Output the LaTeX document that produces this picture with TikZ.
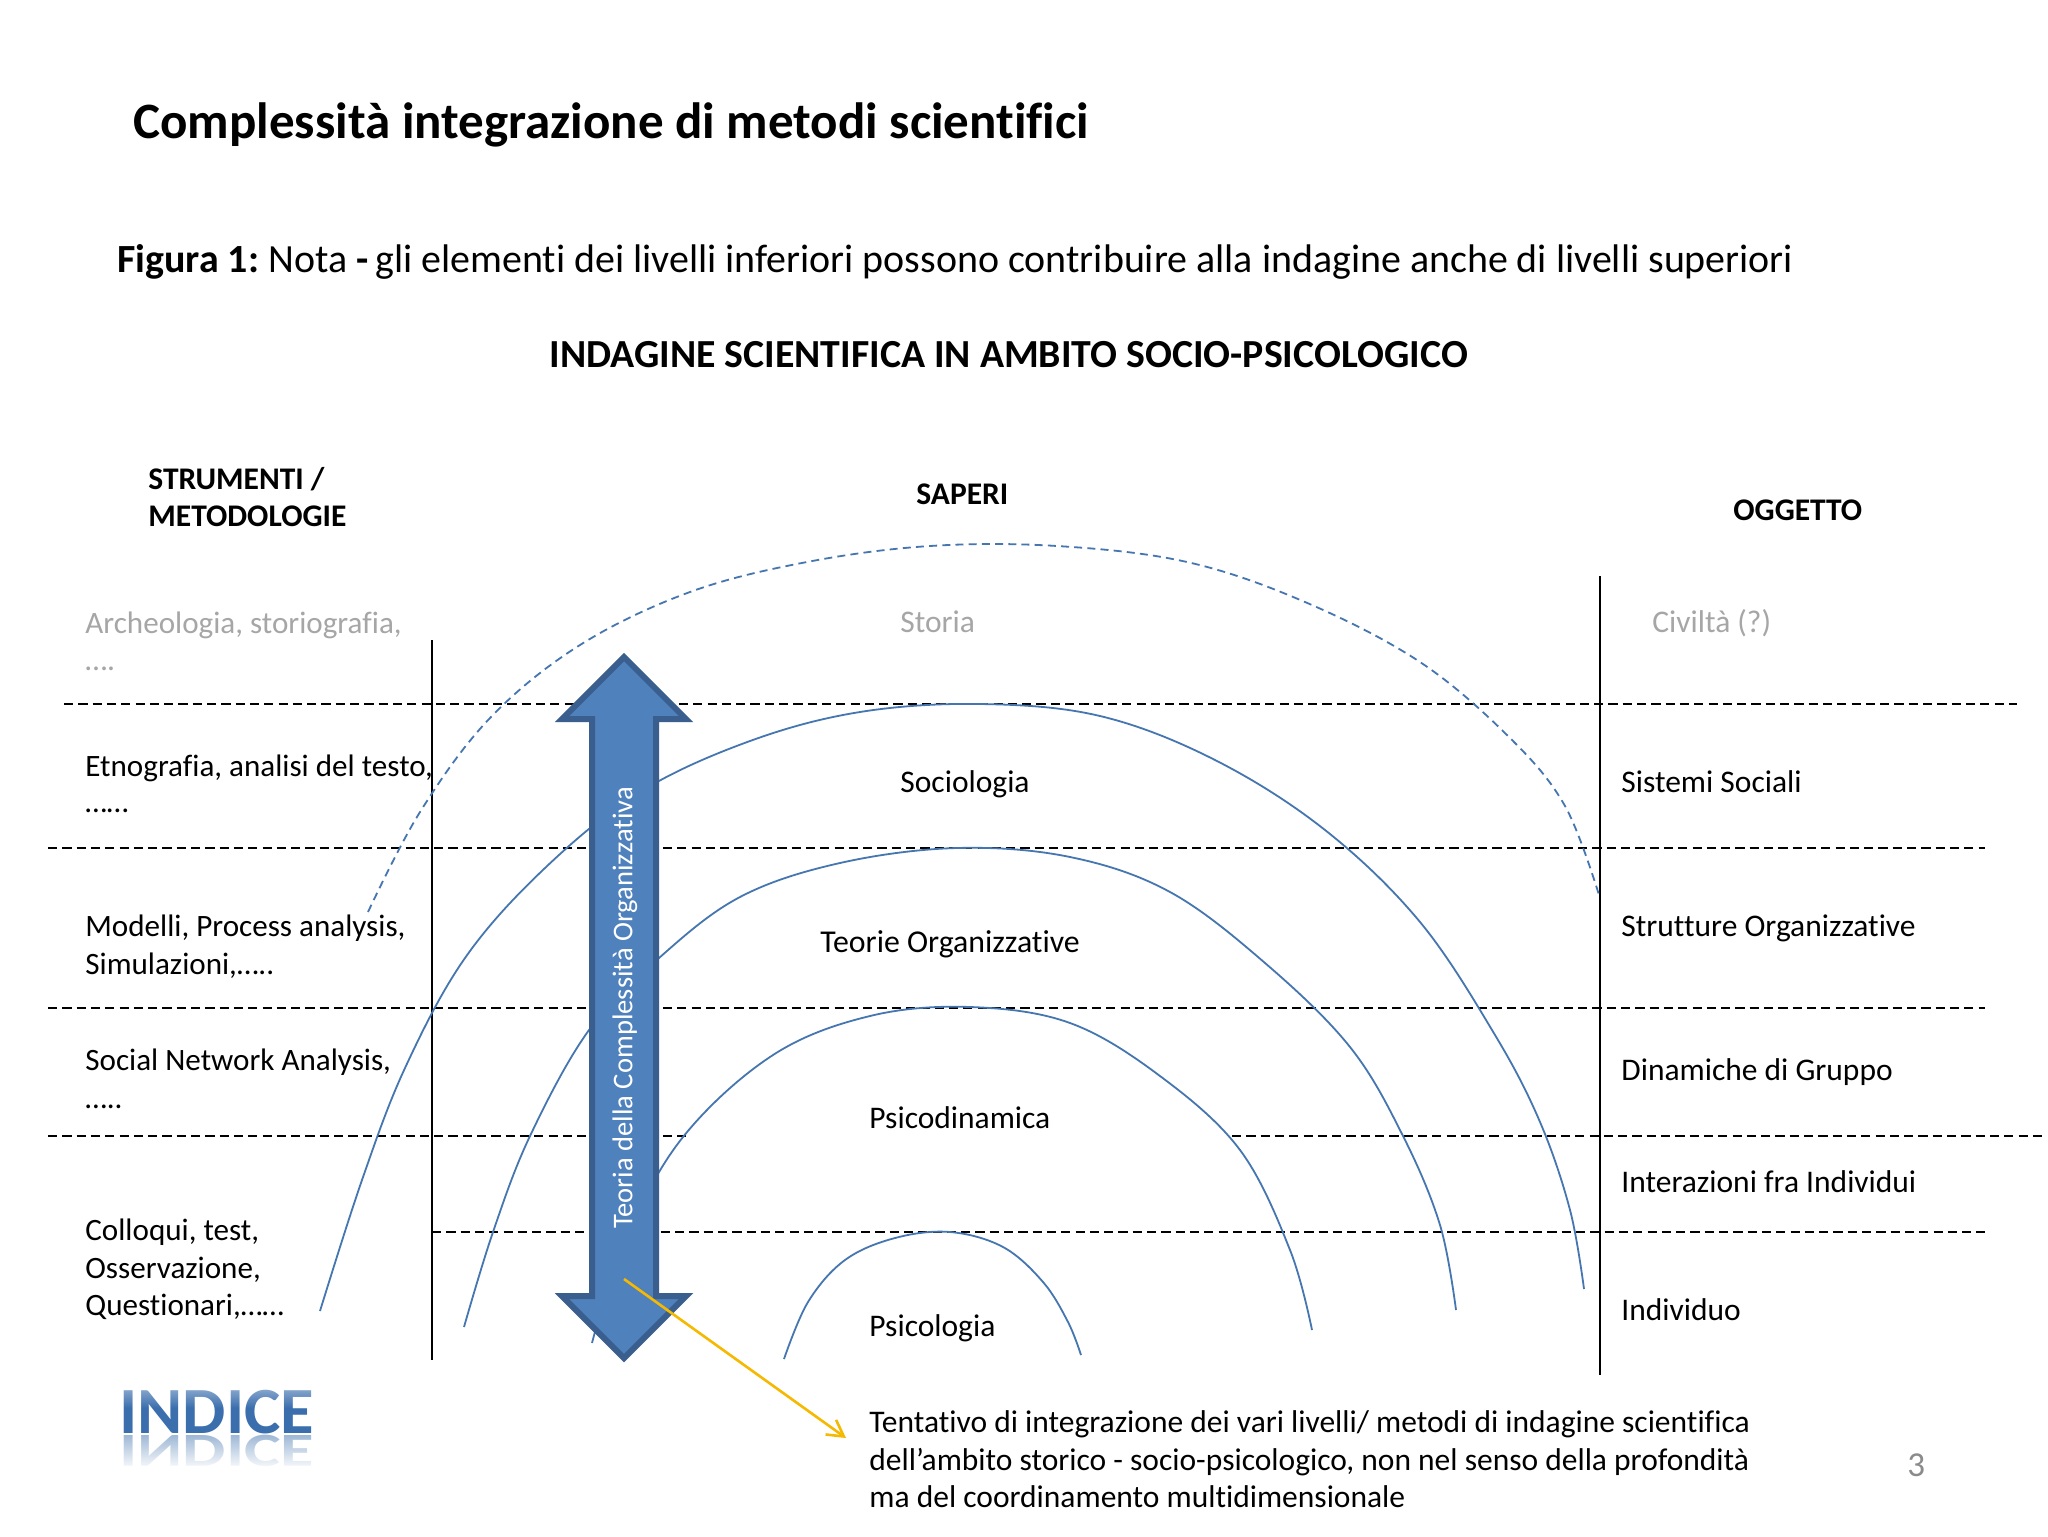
\documentclass[tikz,border=0pt]{standalone}
\usepackage{fontspec}
\setmainfont{Carlito}[Ligatures=CommonOff]
\usetikzlibrary{arrows.meta,fadings}
\definecolor{arcblue}{HTML}{4576B0}
\definecolor{arrfill}{HTML}{4F81BD}
\definecolor{arrdark}{HTML}{3A5F8F}
\definecolor{softgray}{HTML}{A6A6A6}
\definecolor{numgray}{HTML}{8B8B8B}
\definecolor{yellowline}{HTML}{F4B900}
\definecolor{logoblue}{HTML}{3A6EAD}
\tikzset{
  txt/.style={anchor=base west,inner sep=0pt,font=\fontsize{15.75}{18}\selectfont,text=black},
  ltxt/.style={txt,font=\fontsize{15.55}{18}\selectfont},
  faint/.style={txt,text=softgray},
  head/.style={txt,font=\fontsize{15.75}{18}\selectfont\bfseries},
  levelline/.style={black,line width=1pt,dash pattern=on 4.6pt off 2.55pt},
  axisline/.style={black,line width=1pt},
  arc/.style={arcblue,line width=0.9pt},
  dasharc/.style={arcblue,line width=0.9pt,dash pattern=on 4pt off 2.6pt},
}
\begin{document}
\begin{tikzpicture}[x=0.5pt,y=-0.5pt]
\useasboundingbox (0,0) rectangle (2048,1536);
\fill[white] (0,0) rectangle (2048,1536);
% level lines
\coordinate (L1a) at (64,704);   \coordinate (L1b) at (2017,704);
\coordinate (L2a) at (48,848);   \coordinate (L2b) at (1985,848);
\coordinate (L3a) at (48,1008);  \coordinate (L3b) at (1985,1008);
\coordinate (L4a) at (48,1136);  \coordinate (L4m) at (687,1136);
\coordinate (L4n) at (1232,1136);\coordinate (L4b) at (2046,1136);
\coordinate (L5a) at (432,1232); \coordinate (L5b) at (1985,1232);
\draw[levelline] (L1a) -- (L1b);
\draw[levelline] (L2a) -- (L2b);
\draw[levelline] (L3a) -- (L3b);
\draw[levelline] (L4a) -- (L4m);
\draw[levelline] (L4n) -- (L4b);
\draw[levelline] (L5a) -- (L5b);
% axes
\coordinate (V1a) at (432,640);  \coordinate (V1b) at (432,1360);
\coordinate (V2a) at (1600,576); \coordinate (V2b) at (1600,1375);
\draw[axisline] (V1a) -- (V1b);
\draw[axisline] (V2a) -- (V2b);
% arcs
\draw[arc] plot[smooth,tension=0.6] coordinates {(320,1311)(362,1180)(405,1068)(465,958)(545,868)(640,792)(750,741)(860,712)(980,704)(1100,716)(1215,760)(1325,830)(1420,922)(1495,1035)(1540,1122)(1570,1210)(1584,1289)};
\draw[arc] plot[smooth,tension=0.6] coordinates {(464,1327)(493,1232)(530,1136)(589,1030)(659,958)(740,897)(840,863)(957,848)(1070,857)(1170,892)(1265,963)(1350,1047)(1403,1136)(1440,1225)(1456,1310)};
\draw[arc] plot[smooth,tension=0.6] coordinates {(592,1343)(625,1240)(683,1137)(773,1055)(870,1016)(970,1007)(1070,1023)(1160,1076)(1240,1150)(1290,1250)(1312,1330)};
\draw[arc] plot[smooth,tension=0.6] coordinates {(784,1359)(808,1302)(845,1260)(895,1238)(950,1232)(1003,1247)(1043,1282)(1068,1322)(1081,1355)};
\draw[dasharc] plot[smooth,tension=0.6] coordinates {(368,912)(420,812)(490,718)(580,645)(690,592)(807,562)(930,546)(1057,546)(1187,562)(1305,602)(1420,662)(1510,738)(1565,806)(1599,895)};
% double arrow
\draw[fill=arrfill,draw=arrdark,line width=3pt,miter limit=10]
  (624,657) -- (686,719) -- (656,719) -- (656,1296) -- (686,1296) -- (624,1358)
  -- (562,1296) -- (592,1296) -- (592,719) -- (562,719) -- cycle;
\node[inner sep=0pt,rotate=90,text=white,font=\fontsize{14.3}{17}\selectfont] (tc) at (625,1008) {Teoria della Complessità Organizzativa};
% yellow arrow
\coordinate (Y1) at (624,1279); \coordinate (Y2) at (846,1438);
\draw[yellowline,line width=1.3pt,-{Straight Barb[length=8pt,width=9pt]}] (Y1) -- (Y2);
% titles
\node[txt,font=\fontsize{25.5}{29}\selectfont\bfseries] (title) at (133,138) {Complessità integrazione di metodi scientifici};
\node[txt,font=\fontsize{19.97}{23}\selectfont] (fig) at (117,272) {\textbf{Figura 1:}\hspace{-1.5pt} Nota \textbf{-}\hspace{-1pt} gli elementi dei livelli inferiori possono contribuire alla indagine anche di livelli superiori};
\node[txt,font=\fontsize{19.9}{23}\selectfont\bfseries] (main) at (549,367) {INDAGINE SCIENTIFICA IN AMBITO SOCIO-PSICOLOGICO};
% column heads
\node[head] (h1a) at (148,489) {STRUMENTI /};
\node[head] (h1b) at (148,526) {METODOLOGIE};
\node[head] (h2) at (916,504) {SAPERI};
\node[head] (h3) at (1733,520) {OGGETTO};
% left column
\node[faint,ltxt,text=softgray] (l1a) at (85,633) {Archeologia, storiografia,};
\node[faint] (l1b) at (85,670) {….};
\node[ltxt] (l2a) at (85,776) {Etnografia, analisi del testo,};
\node[ltxt] (l2b) at (85,812) {……};
\node[ltxt] (l3a) at (85,936) {Modelli, Process analysis,};
\node[ltxt] (l3b) at (85,974) {Simulazioni,…..};
\node[ltxt] (l4a) at (85,1070) {Social Network Analysis,};
\node[ltxt] (l4b) at (85,1108) {…..};
\node[ltxt] (l5a) at (85,1240) {Colloqui, test,};
\node[ltxt] (l5b) at (85,1278) {Osservazione,};
\node[ltxt] (l5c) at (85,1315) {Questionari,……};
% centre column
\node[faint] (c1) at (900,632) {Storia};
\node[txt] (c2) at (900,792) {Sociologia};
\node[txt,font=\fontsize{15.9}{18}\selectfont] (c3) at (820,952) {Teorie Organizzative};
\node[txt] (c4) at (869,1128) {Psicodinamica};
\node[txt] (c5) at (869,1336) {Psicologia};
% right column
\node[faint] (r1) at (1652,632) {Civiltà (?)};
\node[txt] (r2) at (1621,792) {Sistemi Sociali};
\node[txt] (r3) at (1621,936) {Strutture Organizzative};
\node[txt] (r4) at (1621,1080) {Dinamiche di Gruppo};
\node[txt] (r5) at (1621,1192) {Interazioni fra Individui};
\node[txt] (r6) at (1621,1320) {Individuo};
% note
\node[txt] (n1) at (869,1432) {Tentativo di integrazione dei vari livelli/ metodi di indagine scientifica};
\node[txt] (n2) at (869,1470) {dell’ambito storico - socio-psicologico, non nel senso della profondità};
\node[txt] (n3) at (869,1507) {ma del coordinamento multidimensionale};
\node[txt,text=numgray,font=\fontsize{17.5}{20}\selectfont] (num) at (1907,1476) {3};
% INDICE logo
\node[anchor=base west,inner sep=0pt,text=logoblue,font=\fontsize{33}{36}\selectfont\bfseries,xscale=1.04,transform shape] (logo) at (119,1433) {INDICE};
\node[anchor=base west,inner sep=0pt,text=logoblue,opacity=0.5,font=\fontsize{33}{36}\selectfont\bfseries,xscale=1.04,yscale=-0.72,transform shape] (logor) at (119,1435) {INDICE};
\fill[white,path fading=north] (110,1434) rectangle (320,1470);
\fill[white,opacity=0.45,path fading=south] (110,1386) rectangle (320,1408);
\end{tikzpicture}
\end{document}
